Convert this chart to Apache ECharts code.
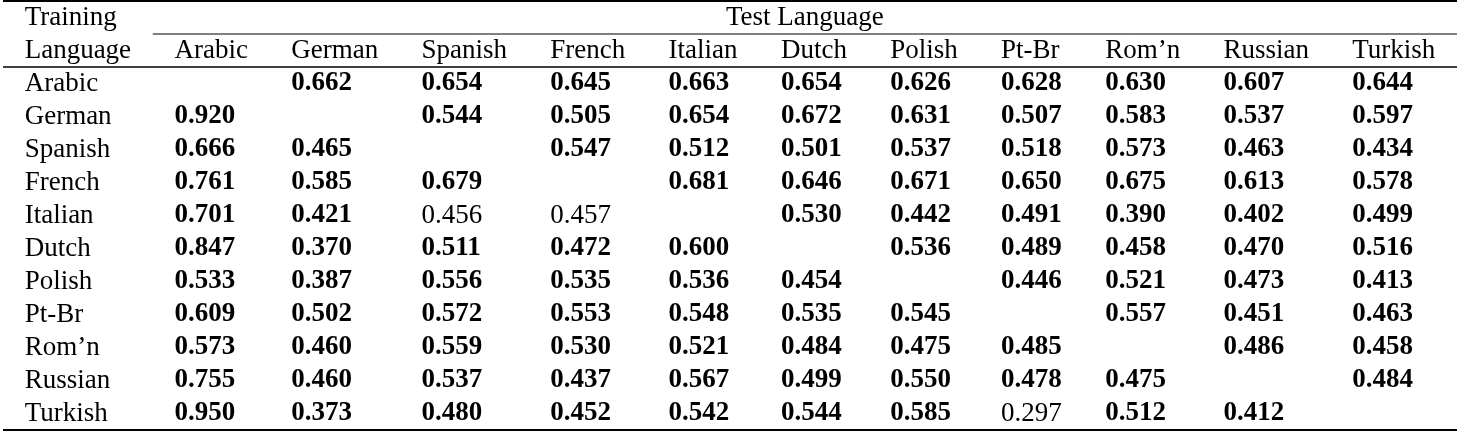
<!DOCTYPE html>
<html>
<head>
<meta charset="utf-8">
<script src="https://cdn.jsdelivr.net/npm/echarts@6/dist/echarts.min.js"></script>
<style>
html,body{margin:0;padding:0;background:#ffffff;}
#chart{width:1461px;height:436px;}
</style>
</head>
<body>
<div id="chart"></div>
<script>
// ---------------- data ----------------
const trainLanguages = ['Arabic','German','Spanish','French','Italian','Dutch','Polish','Pt-Br','Rom\u2019n','Russian','Turkish'];
const testLanguages  = ['Arabic','German','Spanish','French','Italian','Dutch','Polish','Pt-Br','Rom\u2019n','Russian','Turkish'];
const rowHeaderTitle = ['Training','Language'];
const spanTitle = 'Test Language';

const rowArabic  = [null, 0.662, 0.654, 0.645, 0.663, 0.654, 0.626, 0.628, 0.630, 0.607, 0.644];
const rowGerman  = [0.920, null, 0.544, 0.505, 0.654, 0.672, 0.631, 0.507, 0.583, 0.537, 0.597];
const rowSpanish = [0.666, 0.465, null, 0.547, 0.512, 0.501, 0.537, 0.518, 0.573, 0.463, 0.434];
const rowFrench  = [0.761, 0.585, 0.679, null, 0.681, 0.646, 0.671, 0.650, 0.675, 0.613, 0.578];
const rowItalian = [0.701, 0.421, 0.456, 0.457, null, 0.530, 0.442, 0.491, 0.390, 0.402, 0.499];
const rowDutch   = [0.847, 0.370, 0.511, 0.472, 0.600, null, 0.536, 0.489, 0.458, 0.470, 0.516];
const rowPolish  = [0.533, 0.387, 0.556, 0.535, 0.536, 0.454, null, 0.446, 0.521, 0.473, 0.413];
const rowPtBr    = [0.609, 0.502, 0.572, 0.553, 0.548, 0.535, 0.545, null, 0.557, 0.451, 0.463];
const rowRomn    = [0.573, 0.460, 0.559, 0.530, 0.521, 0.484, 0.475, 0.485, null, 0.486, 0.458];
const rowRussian = [0.755, 0.460, 0.537, 0.437, 0.567, 0.499, 0.550, 0.478, 0.475, null, 0.484];
const rowTurkish = [0.950, 0.373, 0.480, 0.452, 0.542, 0.544, 0.585, 0.297, 0.512, 0.412, null];

// cells printed in regular (non-bold) weight: [training, test]
const plainCells = [['Italian','Spanish'], ['Italian','French'], ['Turkish','Pt-Br']];

// ---------------- layout (tabular-like) ----------------
const matrix = [rowArabic,rowGerman,rowSpanish,rowFrench,rowItalian,rowDutch,rowPolish,rowPtBr,rowRomn,rowRussian,rowTurkish];
const FAMILY = "'Liberation Serif','Times New Roman',Times,serif";
const FS = 27;
const ROW_H = 33;
const GRID = {left: 3, right: 4, top: 1};
const W = 1461, H = 436;

const cv = document.createElement('canvas').getContext('2d');
function textW(t, bold) { cv.font = (bold ? 'bold ' : '') + FS + 'px ' + FAMILY; return cv.measureText(t).width; }
function isPlain(r, c) { return plainCells.some(p => p[0] === trainLanguages[r] && p[1] === testLanguages[c]); }
function fmt(v) { return v.toFixed(3); }

const nCols = testLanguages.length + 1;
const nRows = trainLanguages.length + 2;
const natural = [];
natural[0] = Math.max(...rowHeaderTitle.map(t => textW(t)), ...trainLanguages.map(t => textW(t)));
testLanguages.forEach((lang, c) => {
  let w = textW(lang);
  matrix.forEach((row, r) => { if (row[c] != null) w = Math.max(w, textW(fmt(row[c]), !isPlain(r, c))); });
  natural[c + 1] = w;
});
const tableW = W - GRID.left - GRID.right;
const sep = (tableW - natural.reduce((a, b) => a + b, 0)) / (2 * nCols);
const colStart = []; let acc = 0;
natural.forEach((w, i) => { colStart[i] = acc; acc += w + 2 * sep; });
const colText = colStart.map(s => s + sep);

// ---------------- cells ----------------
const cells = [];
cells.push({x: colText[0], y: 0.5, text: rowHeaderTitle[0], bold: false, align: 'left'});
cells.push({x: colText[0], y: 1.5, text: rowHeaderTitle[1], bold: false, align: 'left'});
cells.push({x: (colStart[1] + tableW) / 2, y: 0.5, text: spanTitle, bold: false, align: 'center'});
testLanguages.forEach((l, c) => cells.push({x: colText[c + 1], y: 1.5, text: l, bold: false, align: 'left'}));
trainLanguages.forEach((l, r) => {
  cells.push({x: colText[0], y: r + 2.5, text: l, bold: false, align: 'left'});
  matrix[r].forEach((v, c) => {
    if (v != null) cells.push({x: colText[c + 1], y: r + 2.5, text: fmt(v), bold: !isPlain(r, c), align: 'left'});
  });
});

// rules: [x1, x2, rowBoundary, lineWidth]
const rules = [
  [0, tableW, 0, 2.0],
  [colStart[1], tableW, 1, 1.0],
  [0, tableW, 2, 1.5],
  [0, tableW, nRows, 2.0]
];

const chart = echarts.init(document.getElementById('chart'), null, {renderer: 'canvas'});
chart.setOption({
  animation: false,
  backgroundColor: '#ffffff',
  grid: {left: GRID.left, right: GRID.right, top: GRID.top, height: nRows * ROW_H},
  xAxis: {type: 'value', min: 0, max: tableW, show: false},
  yAxis: {type: 'value', min: 0, max: nRows, inverse: true, show: false},
  series: [
    {
      type: 'custom',
      data: rules.map(r => [r[0], r[2], r[1], r[3]]),
      renderItem: function (params, api) {
        const a = api.coord([api.value(0), api.value(1)]);
        const b = api.coord([api.value(2), api.value(1)]);
        return {type: 'line', shape: {x1: a[0], y1: a[1], x2: b[0], y2: b[1]},
                style: {stroke: '#000000', lineWidth: api.value(3)}};
      },
      silent: true
    },
    {
      type: 'custom',
      data: cells.map(c => [c.x, c.y]),
      renderItem: function (params, api) {
        const c = cells[params.dataIndex];
        const p = api.coord([api.value(0), api.value(1)]);
        return {type: 'text', x: p[0], y: p[1],
                style: {text: c.text, fill: '#000000', align: c.align, verticalAlign: 'middle',
                        font: (c.bold ? 'bold ' : '') + FS + 'px ' + FAMILY}};
      },
      silent: true
    }
  ]
});
</script>
</body>
</html>
